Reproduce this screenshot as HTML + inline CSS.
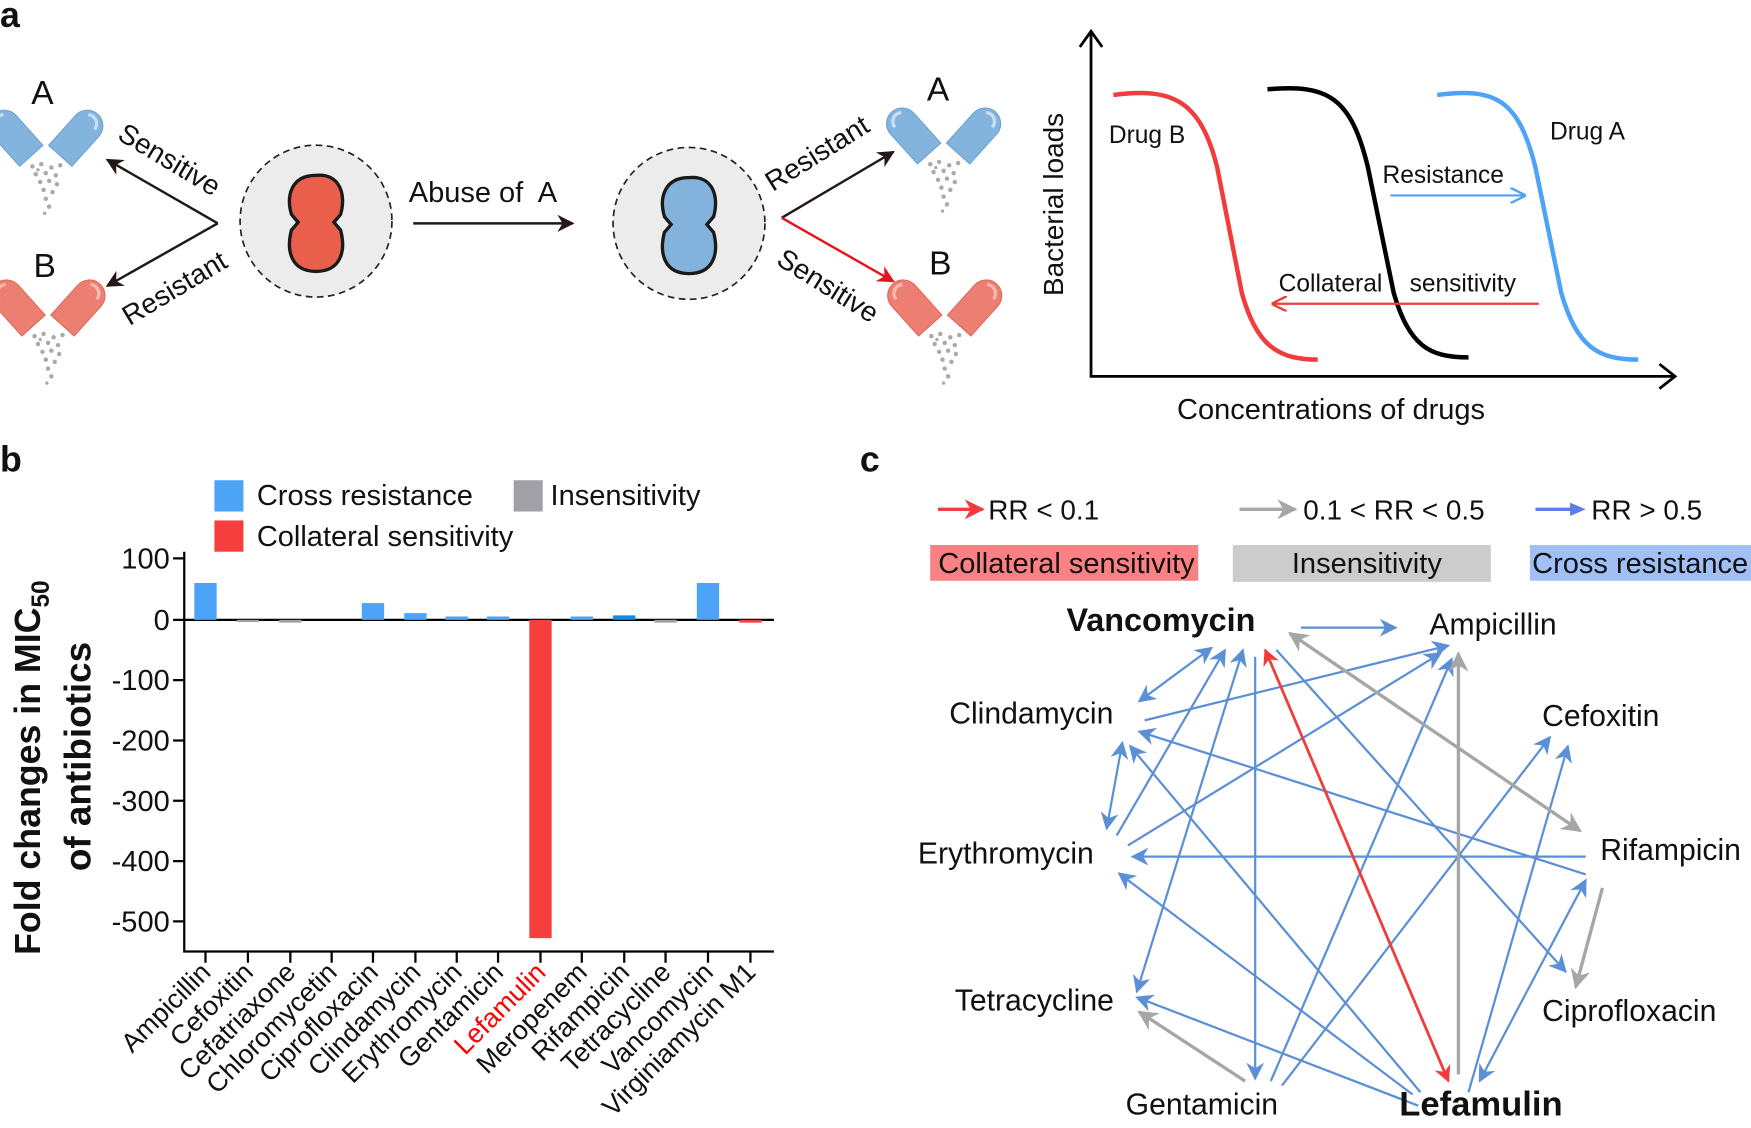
<!DOCTYPE html>
<html><head><meta charset="utf-8"><style>
html,body{margin:0;padding:0;background:#fff;width:1751px;height:1128px;overflow:hidden}
svg{display:block}
text{font-family:"Liberation Sans",Arial,sans-serif;fill:#111;white-space:pre}
</style></head><body>
<svg width="1751" height="1128" viewBox="0 0 1568 1010" preserveAspectRatio="none" xmlns="http://www.w3.org/2000/svg">
<defs>
<marker id="mk" viewBox="0 0 10 10" refX="9" refY="5" markerWidth="7" markerHeight="7" orient="auto-start-reverse"><path d="M0,0 L10,5 L0,10 L3,5 Z" fill="#231815"/></marker>
<marker id="mr" viewBox="0 0 10 10" refX="9" refY="5" markerWidth="7" markerHeight="7" orient="auto-start-reverse"><path d="M0,0 L10,5 L0,10 L3,5 Z" fill="#e8141c"/></marker>
<marker id="bl" viewBox="0 0 10 10" refX="9" refY="5" markerWidth="8" markerHeight="8" orient="auto-start-reverse"><path d="M0,0 L10,5 L0,10 L3,5 Z" fill="#5b8fd6"/></marker>
<marker id="rd" viewBox="0 0 10 10" refX="9" refY="5" markerWidth="6" markerHeight="6" orient="auto-start-reverse"><path d="M0,0 L10,5 L0,10 L3,5 Z" fill="#f03c3c"/></marker>
<marker id="gr" viewBox="0 0 10 10" refX="9" refY="5" markerWidth="6" markerHeight="6" orient="auto-start-reverse"><path d="M0,0 L10,5 L0,10 L3,5 Z" fill="#a6a6a6"/></marker>
<marker id="lb" viewBox="0 0 10 10" refX="9" refY="5" markerWidth="7" markerHeight="7" orient="auto"><path d="M0,0 L10,5 L0,10" fill="none" stroke="#4da3f5" stroke-width="1.5"/></marker>
<marker id="lr" viewBox="0 0 10 10" refX="9" refY="5" markerWidth="7" markerHeight="7" orient="auto"><path d="M0,0 L10,5 L0,10" fill="none" stroke="#f03c3c" stroke-width="1.5"/></marker>
<g id="dots" fill="#aaa"><circle cx="-12" cy="14" r="2"/><circle cx="-4" cy="12" r="2"/><circle cx="5" cy="15" r="2"/><circle cx="13" cy="13" r="2"/><circle cx="-9" cy="21" r="2"/><circle cx="0" cy="20" r="2"/><circle cx="9" cy="22" r="2"/><circle cx="-5" cy="28" r="2"/><circle cx="3" cy="27" r="2"/><circle cx="10" cy="30" r="2"/><circle cx="-2" cy="35" r="2"/><circle cx="6" cy="37" r="2"/><circle cx="0" cy="43" r="2"/><circle cx="3" cy="50" r="2"/><circle cx="-7" cy="17" r="1.5"/><circle cx="-1" cy="56" r="1.5"/></g>
<g id="pillB">
 <g transform="translate(-17,0) rotate(-42)"><path d="M-14,6 V-30 A14,14 0 0 1 14,-30 V6 Z" fill="#82b4de" stroke="#6fa3d2" stroke-width="1"/><path d="M-7,-32 A8,8 0 0 1 6,-38" stroke="#c6e0f3" stroke-width="3" fill="none"/></g>
 <g transform="translate(17,0) rotate(42)"><path d="M-14,6 V-30 A14,14 0 0 1 14,-30 V6 Z" fill="#82b4de" stroke="#6fa3d2" stroke-width="1"/><path d="M-6,-38 A8,8 0 0 1 7,-32" stroke="#c6e0f3" stroke-width="3" fill="none"/></g>
 <use href="#dots"/>
</g>
<g id="pillR">
 <g transform="translate(-17,0) rotate(-42)"><path d="M-14,6 V-30 A14,14 0 0 1 14,-30 V6 Z" fill="#ec7f72" stroke="#e0695b" stroke-width="1"/><path d="M-7,-32 A8,8 0 0 1 6,-38" stroke="#f6b9b0" stroke-width="3" fill="none"/></g>
 <g transform="translate(17,0) rotate(42)"><path d="M-14,6 V-30 A14,14 0 0 1 14,-30 V6 Z" fill="#ec7f72" stroke="#e0695b" stroke-width="1"/><path d="M-6,-38 A8,8 0 0 1 7,-32" stroke="#f6b9b0" stroke-width="3" fill="none"/></g>
 <use href="#dots"/>
</g>
</defs>

<!-- panel a -->
<text x="0" y="24" font-size="32" font-weight="bold">a</text>
<text x="28" y="93" font-size="30">A</text>
<use href="#pillB" x="41" y="135"/>
<text x="30" y="248" font-size="30">B</text>
<use href="#pillR" x="43" y="287"/>
<path d="M195,200 L96,143" stroke="#231815" stroke-width="2.2" fill="none" marker-end="url(#mk)"/>
<path d="M195,200 L96,256" stroke="#231815" stroke-width="2.2" fill="none" marker-end="url(#mk)"/>
<text font-size="25" transform="translate(104,124) rotate(31)">Sensitive</text>
<text font-size="25" transform="translate(116,292) rotate(-31)">Resistant</text>
<circle cx="283" cy="198" r="68" fill="#ececec" stroke="#222" stroke-width="1.5" stroke-dasharray="6,4"/>
<path d="M283,157 C305,155 310,175 305,192 L299,199 L305,206 C310,225 305,243 283,243 C261,243 256,225 261,206 L267,199 L261,192 C256,175 261,157 283,157 Z" fill="#e95f4c" stroke="#1a1a1a" stroke-width="3"/>
<text x="366" y="181" font-size="26">Abuse of  A</text>
<path d="M370,200 L513,200" stroke="#231815" stroke-width="2.2" marker-end="url(#mk)"/>
<circle cx="617" cy="200" r="68" fill="#ececec" stroke="#222" stroke-width="1.5" stroke-dasharray="6,4"/>
<path d="M617,159 C639,157 644,177 639,194 L633,201 L639,208 C644,227 639,245 617,245 C595,245 590,227 595,208 L601,201 L595,194 C590,177 595,159 617,159 Z" fill="#83b3dd" stroke="#1a1a1a" stroke-width="3"/>
<path d="M700,195 L800,136" stroke="#231815" stroke-width="2.2" fill="none" marker-end="url(#mk)"/>
<path d="M700,195 L800,252" stroke="#e8141c" stroke-width="2.2" fill="none" marker-end="url(#mr)"/>
<text font-size="25" transform="translate(692,172) rotate(-32)">Resistant</text>
<text font-size="25" transform="translate(694,236) rotate(32)">Sensitive</text>
<text x="830" y="90" font-size="30">A</text>
<use href="#pillB" x="845" y="133"/>
<text x="832" y="246" font-size="30">B</text>
<use href="#pillR" x="846" y="287"/>

<!-- graph -->
<path d="M977,30 L977,337 L1498,337" stroke="#000" stroke-width="2.5" fill="none"/>
<path d="M967,42 L977,28 L987,42" stroke="#000" stroke-width="2.5" fill="none"/>
<path d="M1486,326 L1500,337 L1486,348" stroke="#000" stroke-width="2.5" fill="none"/>
<text font-size="25" transform="translate(952,265) rotate(-90)">Bacterial loads</text>
<text x="1054" y="375" font-size="26">Concentrations of drugs</text>
<path d="M997,85 C1050,78 1075,90 1090,150 L1112,262 C1125,310 1145,322 1180,322" stroke="#f03c3c" stroke-width="4" fill="none"/>
<path d="M1135,80 C1190,75 1210,88 1225,150 L1248,262 C1262,310 1280,320 1315,320" stroke="#000" stroke-width="4" fill="none"/>
<path d="M1287,85 C1340,78 1360,90 1375,150 L1398,262 C1412,310 1430,322 1467,322" stroke="#4da3f5" stroke-width="4" fill="none"/>
<text x="993" y="128" font-size="22">Drug B</text>
<text x="1388" y="125" font-size="22">Drug A</text>
<text x="1238" y="164" font-size="22">Resistance</text>
<path d="M1245,175 L1365,175" stroke="#4da3f5" stroke-width="2" marker-end="url(#lb)"/>
<text x="1145" y="261" font-size="22">Collateral    sensitivity</text>
<path d="M1378,272 L1140,272" stroke="#f03c3c" stroke-width="2" marker-end="url(#lr)"/>

<!-- panel b -->
<text x="0" y="422" font-size="32" font-weight="bold">b</text>
<rect x="192" y="430" width="26" height="28" fill="#4da3f5"/>
<text x="230" y="452" font-size="26">Cross resistance</text>
<rect x="460" y="430" width="26" height="28" fill="#a0a0a6"/>
<text x="493" y="452" font-size="26">Insensitivity</text>
<rect x="192" y="466" width="26" height="28" fill="#f73e3e"/>
<text x="230" y="489" font-size="26">Collateral sensitivity</text>
<g stroke="#000" stroke-width="2" fill="none">
<path d="M165,494 L165,852 L693,852"/>
<path d="M165,555 L693,555"/>
<path d="M155,500 H165 M155,555 H165 M155,609 H165 M155,663 H165 M155,717 H165 M155,771 H165 M155,825 H165"/>
<path d="M184,852 v10 M222,852 v10 M260,852 v10 M297,852 v10 M334,852 v10 M372,852 v10 M409,852 v10 M446,852 v10 M484,852 v10 M521,852 v10 M559,852 v10 M596,852 v10 M634,852 v10 M672,852 v10"/>
</g>
<g font-size="26" text-anchor="end">
<text x="152" y="509">100</text><text x="152" y="564">0</text><text x="152" y="618">-100</text><text x="152" y="672">-200</text><text x="152" y="726">-300</text><text x="152" y="780">-400</text><text x="152" y="834">-500</text>
</g>
<rect x="174" y="522" width="20" height="33" fill="#4da3f5"/>
<rect x="212" y="555" width="20" height="2" fill="#a0a0a6"/>
<rect x="250" y="555" width="20" height="2.5" fill="#a0a0a6"/>
<rect x="324" y="540" width="20" height="15" fill="#4da3f5"/>
<rect x="362" y="549" width="20" height="6" fill="#4da3f5"/>
<rect x="399" y="552" width="20" height="3" fill="#4da3f5"/>
<rect x="436" y="552" width="20" height="3" fill="#4da3f5"/>
<rect x="474" y="555" width="20" height="285" fill="#f73e3e"/>
<rect x="511" y="552" width="20" height="3" fill="#4da3f5"/>
<rect x="549" y="551" width="20" height="4" fill="#1d88e0"/>
<rect x="586" y="555" width="20" height="2.5" fill="#a0a0a6"/>
<rect x="624" y="522" width="20" height="33" fill="#4da3f5"/>
<rect x="662" y="555" width="20" height="2.5" fill="#f73e3e"/>
<g font-size="24" text-anchor="end">
<text transform="translate(190,872) rotate(-45)">Ampicillin</text>
<text transform="translate(228,872) rotate(-45)">Cefoxitin</text>
<text transform="translate(266,872) rotate(-45)">Cefatriaxone</text>
<text transform="translate(303,872) rotate(-45)">Chloromycetin</text>
<text transform="translate(340,872) rotate(-45)">Ciprofloxacin</text>
<text transform="translate(378,872) rotate(-45)">Clindamycin</text>
<text transform="translate(415,872) rotate(-45)">Erythromycin</text>
<text transform="translate(452,872) rotate(-45)">Gentamicin</text>
<text transform="translate(490,872) rotate(-45)" style="fill:#f00">Lefamulin</text>
<text transform="translate(527,872) rotate(-45)">Meropenem</text>
<text transform="translate(565,872) rotate(-45)">Rifampicin</text>
<text transform="translate(602,872) rotate(-45)">Tetracycline</text>
<text transform="translate(640,872) rotate(-45)">Vancomycin</text>
<text transform="translate(678,872) rotate(-45)">Virginiamycin M1</text>
</g>
<text font-size="32" font-weight="bold" transform="translate(36,855) rotate(-90)">Fold changes in MIC<tspan font-size="22" dy="8">50</tspan></text>
<text font-size="33" font-weight="bold" transform="translate(81,780) rotate(-90)">of antibiotics</text>

<!-- panel c -->
<text x="770" y="422" font-size="32" font-weight="bold">c</text>
<path d="M840,456 L880,456" stroke="#f03c3c" stroke-width="3" marker-end="url(#rd)"/>
<text x="885" y="465" font-size="25">RR &lt; 0.1</text>
<path d="M1110,456 L1160,456" stroke="#a6a6a6" stroke-width="3" marker-end="url(#gr)"/>
<text x="1167" y="465" font-size="25">0.1 &lt; RR &lt; 0.5</text>
<path d="M1375,456 L1410,456" stroke="#5b7fe6" stroke-width="3"/>
<path d="M1406,450 L1420,456 L1406,462 Z" fill="#5b7fe6"/>
<text x="1425" y="465" font-size="25">RR &gt; 0.5</text>
<rect x="833" y="488" width="240" height="32" fill="#f98083"/>
<text x="955" y="513" font-size="26" text-anchor="middle">Collateral sensitivity</text>
<rect x="1104" y="488" width="231" height="33" fill="#cccccc"/>
<text x="1224" y="513" font-size="26" text-anchor="middle">Insensitivity</text>
<rect x="1370" y="488" width="198" height="32" fill="#a0bff5"/>
<text x="1372" y="513" font-size="26">Cross resistance</text>

<g stroke="#5b8fd6" stroke-width="2" fill="none">
<path d="M1165,562 L1250,562" marker-end="url(#bl)"/>
<path d="M1020,628 L1085,580" marker-start="url(#bl)" marker-end="url(#bl)"/>
<path d="M1025,645 L1297,578" marker-end="url(#bl)"/>
<path d="M1005,665 L991,742" marker-start="url(#bl)" marker-end="url(#bl)"/>
<path d="M1000,748 L1097,582" marker-end="url(#bl)"/>
<path d="M1018,888 L1113,582" marker-start="url(#bl)" marker-end="url(#bl)"/>
<path d="M1124,588 L1124,966" marker-end="url(#bl)"/>
<path d="M1143,582 L1402,870" marker-end="url(#bl)"/>
<path d="M1010,757 L1290,585" marker-end="url(#bl)"/>
<path d="M1420,767 L1014,767" marker-end="url(#bl)"/>
<path d="M1420,783 L1020,655" marker-end="url(#bl)"/>
<path d="M1272,978 L1012,668" marker-end="url(#bl)"/>
<path d="M1265,980 L1002,782" marker-end="url(#bl)"/>
<path d="M1270,990 L1018,893" marker-end="url(#bl)"/>
<path d="M1138,968 L1300,590" marker-end="url(#bl)"/>
<path d="M1148,972 L1388,660" marker-end="url(#bl)"/>
<path d="M1315,978 L1404,668" marker-end="url(#bl)"/>
<path d="M1325,968 L1420,788" marker-start="url(#bl)" marker-end="url(#bl)"/>
</g>
<g stroke="#a6a6a6" stroke-width="3" fill="none">
<path d="M1155,567 L1415,744" marker-start="url(#gr)" marker-end="url(#gr)"/>
<path d="M1306,962 L1306,585" marker-end="url(#gr)"/>
<path d="M1435,795 L1411,884" marker-end="url(#gr)"/>
<path d="M1115,968 L1020,906" marker-end="url(#gr)"/>
</g>
<path d="M1133,582 L1297,968" stroke="#f03c3c" stroke-width="2.5" fill="none" marker-start="url(#rd)" marker-end="url(#rd)"/>

<g font-size="27">
<text x="955" y="565" font-weight="bold" font-size="29">Vancomycin</text>
<text x="1280" y="568">Ampicillin</text>
<text x="850" y="648">Clindamycin</text>
<text x="1381" y="650">Cefoxitin</text>
<text x="822" y="773">Erythromycin</text>
<text x="1433" y="770">Rifampicin</text>
<text x="855" y="905">Tetracycline</text>
<text x="1381" y="914">Ciprofloxacin</text>
<text x="1008" y="998">Gentamicin</text>
<text x="1253" y="999" font-weight="bold" font-size="31">Lefamulin</text>
</g>
</svg>
</body></html>
